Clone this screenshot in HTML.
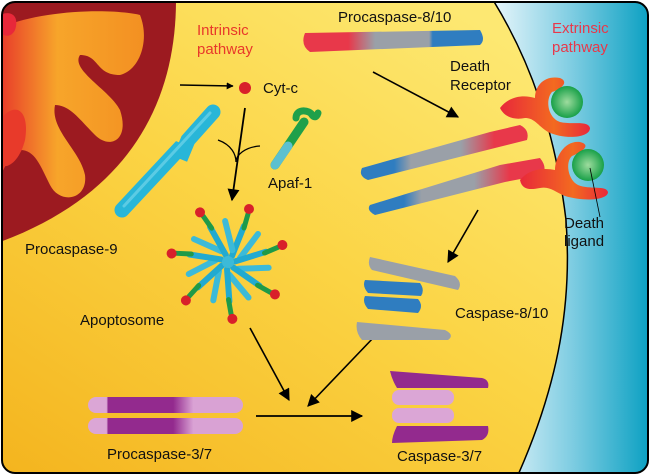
<!DOCTYPE html>
<html><head><style>
html,body{margin:0;padding:0;background:#fff}
svg{display:block}
text{font-family:"Liberation Sans",Arial,sans-serif}
</style></head><body>
<svg width="650" height="475" viewBox="0 0 650 475" xmlns="http://www.w3.org/2000/svg">
<defs>
<linearGradient id="cyto" x1="0" y1="1" x2="0.8" y2="0.1">
<stop offset="0" stop-color="#f4b41e"/><stop offset="0.55" stop-color="#fbd444"/><stop offset="1" stop-color="#fde872"/>
</linearGradient>
<linearGradient id="ext" x1="0" y1="0" x2="1" y2="0">
<stop offset="0" stop-color="#e8f6fb"/><stop offset="0.5" stop-color="#7fcde2"/><stop offset="1" stop-color="#0aa0c2"/>
</linearGradient>
<linearGradient id="mito" x1="0" y1="0" x2="1" y2="0">
<stop offset="0" stop-color="#e83a2a"/><stop offset="0.4" stop-color="#f7a52a"/><stop offset="1" stop-color="#f39022"/>
</linearGradient>
<linearGradient id="pc810" x1="0" y1="0" x2="1" y2="0">
<stop offset="0" stop-color="#e8384a"/><stop offset="0.25" stop-color="#e8384a"/><stop offset="0.4" stop-color="#9aa0a8"/><stop offset="0.7" stop-color="#9aa0a8"/><stop offset="0.72" stop-color="#2f7dc0"/><stop offset="1" stop-color="#2f7dc0"/>
</linearGradient>
<linearGradient id="rec" x1="0" y1="0" x2="1" y2="0">
<stop offset="0" stop-color="#2f7dc0"/><stop offset="0.2" stop-color="#2f7dc0"/><stop offset="0.3" stop-color="#9aa0a8"/><stop offset="0.6" stop-color="#9aa0a8"/><stop offset="0.8" stop-color="#e8384a"/><stop offset="1" stop-color="#e8384a"/>
</linearGradient>
<linearGradient id="drec" x1="0" y1="0" x2="1" y2="0">
<stop offset="0" stop-color="#e8283a"/><stop offset="0.6" stop-color="#f36a20"/><stop offset="1" stop-color="#e8283a"/>
</linearGradient>
<radialGradient id="lig"><stop offset="0" stop-color="#9edc9e"/><stop offset="1" stop-color="#18a048"/></radialGradient>
<linearGradient id="p37" x1="0" y1="0" x2="1" y2="0">
<stop offset="0" stop-color="#dba6d6"/><stop offset="0.12" stop-color="#dba6d6"/><stop offset="0.13" stop-color="#932a8e"/><stop offset="0.55" stop-color="#932a8e"/><stop offset="0.68" stop-color="#d9a2d4"/><stop offset="1" stop-color="#d9a2d4"/>
</linearGradient>
<clipPath id="frame"><rect x="2" y="2" width="646" height="471" rx="13"/></clipPath>
<marker id="ah" viewBox="0 0 10 10" refX="9" refY="5" markerWidth="7" markerHeight="7" orient="auto" markerUnits="userSpaceOnUse"><path d="M0,0 L10,5 L0,10 Z" fill="#000"/></marker>
<marker id="ahb" viewBox="0 0 10 10" refX="9" refY="5" markerWidth="14" markerHeight="12" orient="auto" markerUnits="userSpaceOnUse"><path d="M0,0 L10,5 L0,10 Z" fill="#000"/></marker>
</defs>
<g clip-path="url(#frame)">
<rect width="650" height="475" fill="url(#cyto)"/>
<path d="M493,0 C530,60 555,130 566,220 C572,300 560,380 518,475 L650,475 L650,0 Z" fill="url(#ext)"/>
<path d="M493,0 C530,60 555,130 566,220 C572,300 560,380 518,475" fill="none" stroke="#000" stroke-width="1.5"/>
<!-- mitochondrion -->
<path d="M0,0 L176,0 C176,90 140,190 0,242 Z" fill="#9c1a20"/>
<path d="M0,28 C40,10 110,8 140,15 C150,40 140,70 120,75 C95,75 100,55 80,55 C70,70 110,90 120,110 C130,140 110,150 95,135 C80,120 70,105 55,105 C50,130 80,150 85,175 C88,200 60,205 50,185 C40,165 35,150 20,150 C10,150 5,170 0,175 Z" fill="url(#mito)"/>
<path d="M0,15 C10,10 20,15 15,30 C10,40 0,35 0,30 Z" fill="#e8283a"/>
<path d="M0,120 C15,100 30,110 25,140 C20,160 8,170 0,165 Z" fill="#e83a2a"/>
</g>
<rect x="2" y="2" width="646" height="471" rx="13" fill="none" stroke="#000" stroke-width="2"/>

<text x="197" y="35" font-size="15" fill="#e8382a">Intrinsic</text>
<text x="197" y="54" font-size="15" fill="#e8382a">pathway</text>
<text x="552" y="33" font-size="15" fill="#e8384a">Extrinsic</text>
<text x="552" y="52" font-size="15" fill="#e8384a">pathway</text>

<line x1="180" y1="85" x2="233" y2="86" stroke="#000" stroke-width="1.6" marker-end="url(#ah)"/>
<circle cx="245" cy="88" r="6" fill="#d8202a"/>
<text x="263" y="93" font-size="15" fill="#111">Cyt-c</text>
<path d="M245,108 L232,200" stroke="#000" stroke-width="1.8" marker-end="url(#ahb)"/>
<path d="M218,140 C232,145 236,155 236,162 C236,155 245,147 260,146" fill="none" stroke="#000" stroke-width="1.3"/>

<!-- procaspase-9 -->
<path d="M122,210 L178,150 L183,152 L188,140 L213,112" stroke="#28b6d8" stroke-width="15" stroke-linecap="round" fill="none"/>
<path d="M124,206 L210,113" stroke="#8fe0f0" stroke-width="3" stroke-linecap="round" opacity="0.5"/>
<text x="25" y="254" font-size="15" fill="#111">Procaspase-9</text>
<!-- apaf-1 -->
<path d="M275,165 L304,122" stroke="#1fa04a" stroke-width="9" stroke-linecap="round"/>
<path d="M275,165 L288,146" stroke="#5cc0d0" stroke-width="9" stroke-linecap="round"/>
<path d="M296,118 C296,108 310,110 312,115 C316,120 318,113 318,113" stroke="#1fa04a" stroke-width="7" fill="none" stroke-linecap="round"/>
<text x="268" y="188" font-size="15" fill="#111">Apaf-1</text>

<!-- apoptosome -->
<g transform="translate(228,262)">
<g id="sp">
<path d="M4,-6 L16,-36" stroke="#22aad0" stroke-width="6" stroke-linecap="round"/>
<path d="M12,-4 L30,-28" stroke="#3cbad8" stroke-width="6" stroke-linecap="round"/>
<path d="M16,-34 L20,-48" stroke="#1e9a48" stroke-width="5" stroke-linecap="round"/>
<circle cx="21" cy="-53" r="5" fill="#d8202a"/>
</g>
<use href="#sp" transform="rotate(51)"/>
<use href="#sp" transform="rotate(103)"/>
<use href="#sp" transform="rotate(154)"/>
<use href="#sp" transform="rotate(206)"/>
<use href="#sp" transform="rotate(257)"/>
<use href="#sp" transform="rotate(309)"/>
<circle r="6" fill="#3cbad8"/>
</g>
<text x="80" y="325" font-size="15" fill="#111">Apoptosome</text>

<line x1="250" y1="328" x2="289" y2="400" stroke="#000" stroke-width="1.6" marker-end="url(#ahb)"/>
<line x1="375" y1="336" x2="308" y2="406" stroke="#000" stroke-width="1.6" marker-end="url(#ahb)"/>
<line x1="256" y1="416" x2="362" y2="416" stroke="#000" stroke-width="1.8" marker-end="url(#ahb)"/>

<!-- procaspase-3/7 -->
<rect x="88" y="397" width="155" height="16" rx="8" fill="url(#p37)"/>
<rect x="88" y="418" width="155" height="16" rx="8" fill="url(#p37)"/>
<text x="107" y="459" font-size="15" fill="#111">Procaspase-3/7</text>

<!-- caspase-3/7 -->
<path d="M390,371 L482,378 Q490,380 488,388 L397,388 Q392,380 390,371 Z" fill="#932a8e"/>
<path d="M392,443 L482,440 Q490,436 488,426 L397,426 Q392,436 392,443 Z" fill="#932a8e"/>
<rect x="392" y="390" width="62" height="15" rx="7" fill="#dba6d6"/>
<rect x="392" y="408" width="62" height="15" rx="7" fill="#dba6d6"/>
<text x="397" y="461" font-size="15" fill="#111">Caspase-3/7</text>

<!-- caspase-8/10 -->
<path d="M370,257 L455,276 Q463,283 458,290 L372,270 Q367,265 370,257 Z" fill="#9aa0a8"/>
<path d="M357,322 L445,330 Q455,335 448,340 L362,340 Q355,332 357,322 Z" fill="#9aa0a8"/>
<path d="M365,280 L420,283 Q425,290 421,296 L368,293 Q362,286 365,280 Z" fill="#2f7dc0"/>
<path d="M365,296 L418,299 Q424,306 418,313 L368,309 Q362,302 365,296 Z" fill="#2f7dc0"/>
<text x="455" y="318" font-size="15" fill="#111">Caspase-8/10</text>
<line x1="478" y1="210" x2="448" y2="262" stroke="#000" stroke-width="1.6" marker-end="url(#ahb)"/>

<!-- procaspase-8/10 -->
<text x="338" y="22" font-size="15" fill="#111">Procaspase-8/10</text>
<path d="M305,33 L480,30 Q486,40 480,45 L310,52 Q300,45 305,33 Z" fill="url(#pc810)"/>
<text x="450" y="71" font-size="15" fill="#111">Death</text>
<text x="450" y="90" font-size="15" fill="#111">Receptor</text>
<line x1="373" y1="72" x2="458" y2="117" stroke="#000" stroke-width="1.6" marker-end="url(#ahb)"/>

<!-- receptor procaspases -->
<path d="M362,168 L490,132 L520,125 Q530,130 527,140 L495,148 L368,180 Q358,176 362,168 Z" fill="url(#rec)"/>
<path d="M370,205 L500,165 L540,158 Q548,168 542,175 L505,182 L375,215 Q366,210 370,205 Z" fill="url(#rec)"/>

<!-- death receptors -->
<path d="M500,108 C510,95 525,95 535,98 C535,85 545,75 560,78 C570,82 560,90 552,92 C545,100 548,118 560,122 C572,125 588,120 590,128 C590,138 565,140 548,132 C538,126 535,118 525,118 C515,120 505,118 500,108 Z" fill="url(#drec)"/>
<path d="M520,180 C530,168 545,168 555,170 C555,157 565,140 580,142 C592,145 582,152 572,156 C565,162 568,180 578,185 C590,190 606,185 608,192 C608,200 585,202 565,196 C555,192 550,186 540,188 C530,190 522,190 520,180 Z" fill="url(#drec)"/>
<circle cx="567" cy="102" r="16" fill="url(#lig)"/>
<circle cx="588" cy="165" r="16" fill="url(#lig)"/>
<line x1="590" y1="168" x2="600" y2="217" stroke="#000" stroke-width="0.8"/>
<text x="564" y="228" font-size="15" fill="#111">Death</text>
<text x="564" y="246" font-size="15" fill="#111">ligand</text>
</svg>
</body></html>
